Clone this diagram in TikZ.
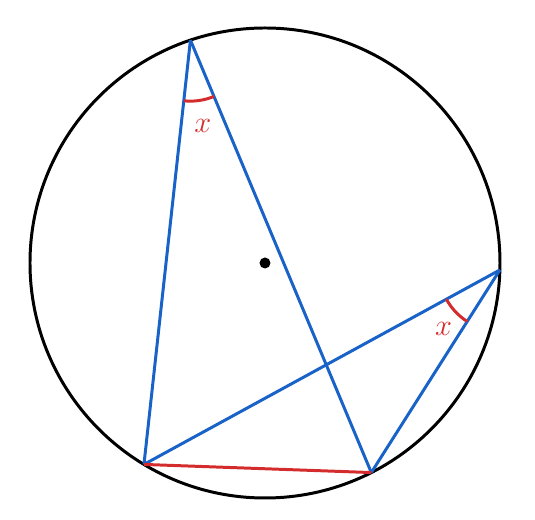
\documentclass[tikz,border=0pt]{standalone}
\usetikzlibrary{angles,quotes}
\definecolor{chordblue}{RGB}{24,98,200}
\definecolor{markred}{RGB}{212,44,44}
\begin{document}
\begin{tikzpicture}[line width=1.7pt]
        % inscribed angles on the same arc
        \useasboundingbox (-5.3,-5.14) rectangle (5.4,5.26);
        \coordinate (O) at (0,0);
        \coordinate (A) at (108.5:4.7);
        \coordinate (B) at (239:4.7);
        \coordinate (C) at (296.9:4.7);
        \coordinate (D) at (-1.7:4.7);

        \draw[black] (O) circle (4.7);
        \fill (O) circle (0.11);

        \draw[chordblue] (A) -- (B);
        \draw[chordblue] (A) -- (C);
        \draw[chordblue] (B) -- (D);
        \draw[chordblue] (D) -- (C);
        \draw[markred] (B) -- (C);

        \pic[draw=markred, angle radius=1.22cm, angle eccentricity=1.42, "\LARGE$x$" {text=markred}] {angle = B--A--C};
        \pic[draw=markred, angle radius=1.22cm, angle eccentricity=1.42, "\LARGE$x$" {text=markred, xshift=4pt}] {angle = B--D--C};
    \end{tikzpicture}
\end{document}
